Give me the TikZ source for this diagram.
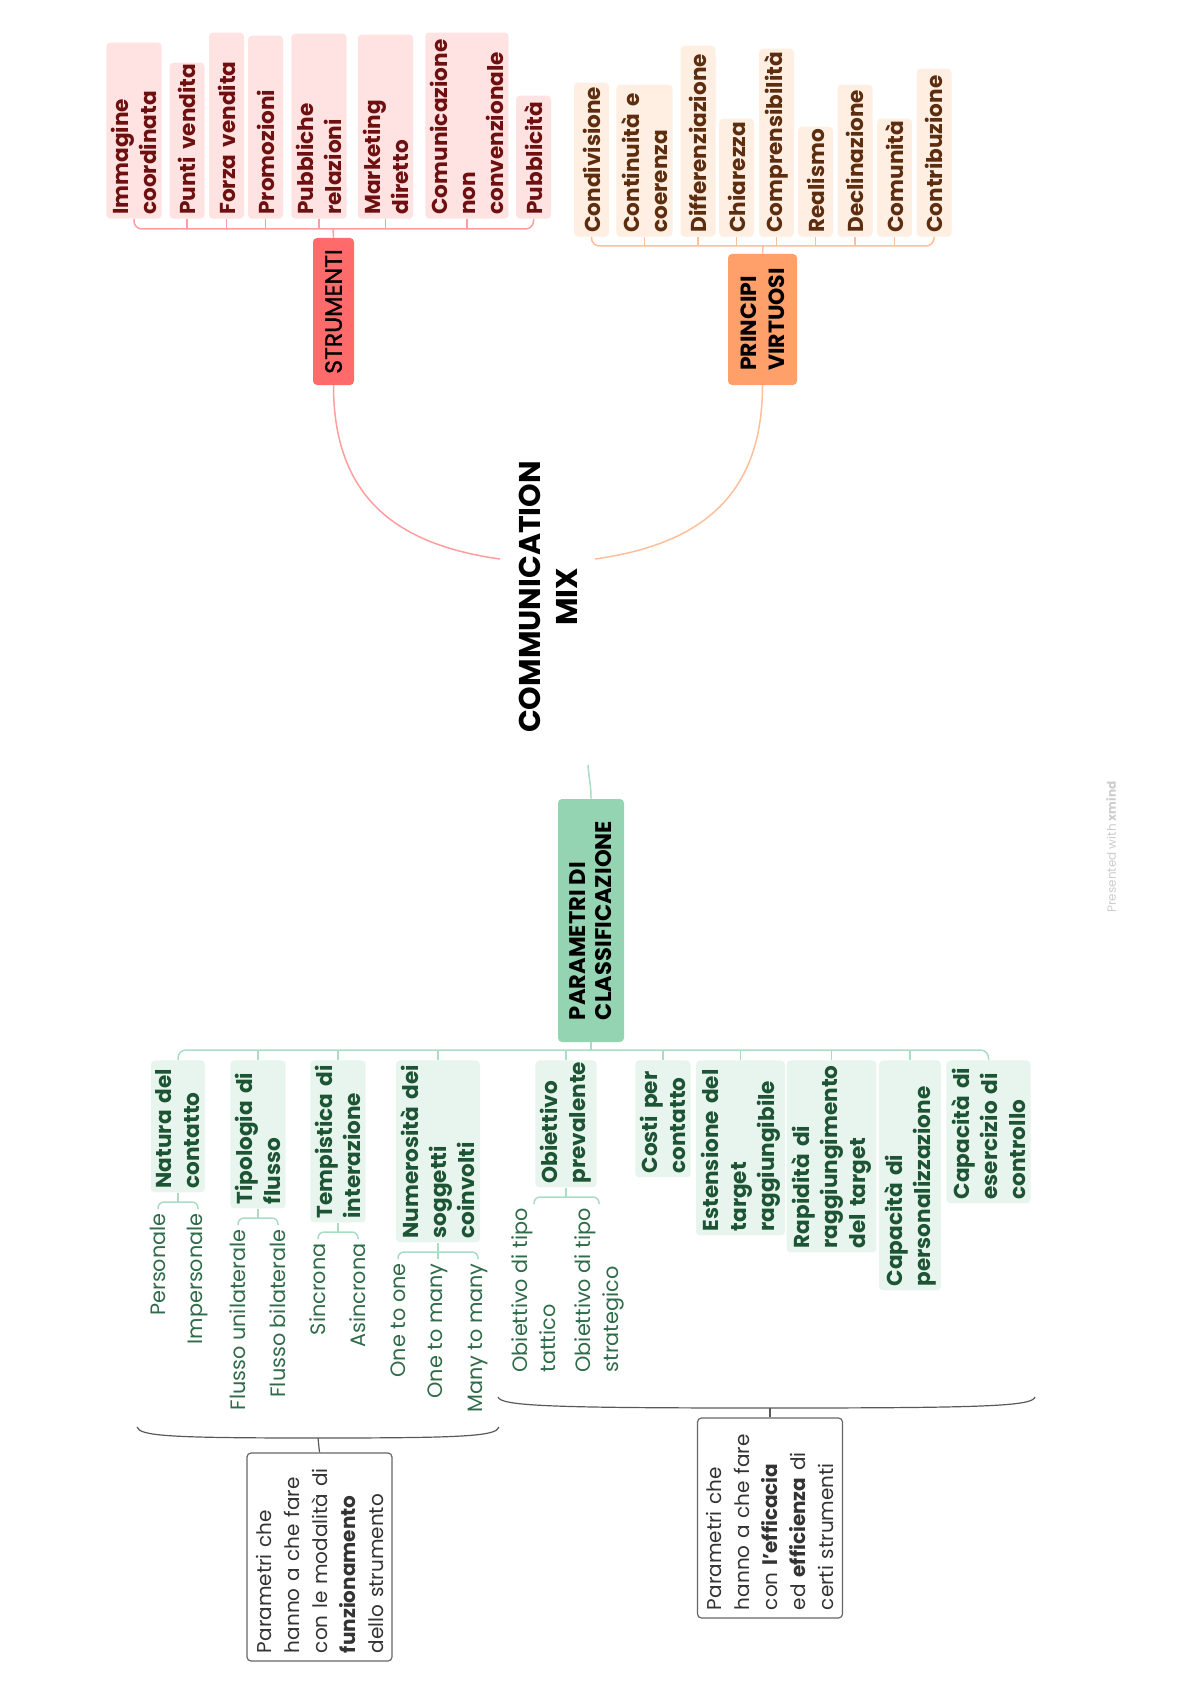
\documentclass[tikz,border=0pt]{standalone}
\usepackage{fontspec}
\setmainfont{Poppins}
\newfontfamily\medfont{Poppins}[FakeBold=1.2]
\hyphenpenalty=10000
\exhyphenpenalty=10000
\definecolor{redM}{HTML}{FF6B6B}
\definecolor{redL}{HTML}{FFE2E2}
\definecolor{redT}{HTML}{6E1010}
\definecolor{redW}{HTML}{FF9E9E}
\definecolor{orgM}{HTML}{FFA06A}
\definecolor{orgL}{HTML}{FFEEE2}
\definecolor{orgT}{HTML}{5C2D0E}
\definecolor{orgW}{HTML}{FFBF99}
\definecolor{grnM}{HTML}{95D4B3}
\definecolor{grnL}{HTML}{E8F5EE}
\definecolor{grnT}{HTML}{1C5434}
\definecolor{grnS}{HTML}{2F6B49}
\definecolor{grnW}{HTML}{A9DDC3}

\begin{document}
\begin{tikzpicture}[
  x=0.5pt, y=-0.5pt, every node/.style={rotate=90},
  hub/.style={font=\bfseries\fontsize{15}{18.5}\selectfont, align=center, inner sep=0pt},
  topic/.style={rounded corners=2pt, align=left, inner sep=0pt},
  leafR/.style={fill=redL, text=redT, rounded corners=2pt, align=left, text width=#1,
                inner xsep=2pt, inner ysep=2.5pt, minimum height=17.5pt, anchor=west,
                font=\bfseries\fontsize{10.8}{14}\selectfont},
  leafO/.style={leafR=#1, fill=orgL, text=orgT},
  leafG/.style={leafR=#1, fill=grnL, text=grnT, anchor=east},
  sub/.style={text=grnS, align=left, inner sep=2pt, anchor=east,
              font=\fontsize{10.4}{14}\selectfont},
  note/.style={draw=black!60, fill=white, rounded corners=2pt, align=left, inner xsep=4pt,
               minimum height=72.5pt, text=black!80, line width=0.6pt,
               font=\fontsize{10}{14}\selectfont},
  lnR/.style={draw=redW, line width=0.75pt},
  lnO/.style={draw=orgW, line width=0.75pt},
  lnG/.style={draw=grnW, line width=0.75pt},
  brc/.style={draw=black!65, line width=0.6pt}
]
\useasboundingbox (0,0) rectangle (1200,1696);

\node[hub] (cm) at (548.5,597) {COMMUNICATION\\MIX};

\node[topic, fill=redM, minimum width=73.5pt, minimum height=20.5pt,
      font=\medfont\fontsize{11.8}{14}\selectfont] (stru) at (333.5,311.5) {STRUMENTI};
\node[topic, fill=orgM, minimum width=65.5pt, minimum height=34.5pt,
      font=\bfseries\fontsize{11}{14}\selectfont] (princ) at (762.5,319.5) {PRINCIPI\\VIRTUOSI};
\node[topic, fill=grnM, minimum width=121.5pt, minimum height=33pt,
      font=\bfseries\fontsize{11.3}{13}\selectfont] (par) at (591,920.5) {PARAMETRI~DI\\CLASSIFICAZIONE};

\node[leafR=84pt]   (imm)   at (134,219)   {Immagine\\coordinata};
\node[leafR=74pt]   (pv)    at (187,219)   {Punti~vendita};
\node[leafR=89pt]   (fv)    at (226.5,219) {Forza~vendita};
\node[leafR=87.5pt] (promo) at (265.5,219) {Promozioni};
\node[leafR=88.5pt] (pr)    at (319,219)   {Pubbliche\\relazioni};
\node[leafR=88pt]   (md)    at (385.5,219) {Marketing\\diretto};
\node[leafR=89pt]   (cnc)   at (467,219)   {Comunicazione\\non\\convenzionale};
\node[leafR=57.5pt] (pubb)  at (533.5,219) {Pubblicità};

\node[leafO=73pt]   (cond)  at (591.5,237) {Condivisione};
\node[leafO=72pt]   (cont)  at (644.5,237) {Continuità~e\\coerenza};
\node[leafO=91.5pt] (diff)  at (698,237)   {Differenziazione};
\node[leafO=55pt]   (chia)  at (736.5,237) {Chiarezza};
\node[leafO=90pt]   (comp)  at (776.5,237) {Comprensibilità};
\node[leafO=51pt]   (real)  at (815.5,237) {Realismo};
\node[leafO=72pt]   (decl)  at (855,237)   {Declinazione};
\node[leafO=55pt]   (comu)  at (894.5,237) {Comunità};
\node[leafO=80pt]   (contr) at (934,237)   {Contribuzione};

\node[leafG=62pt]   (nat) at (178,1060)   {Natura~del\\contatto};
\node[leafG=70pt]   (tip) at (258,1060)   {Tipologia~di\\flusso};
\node[leafG=77pt]   (tem) at (338,1060)   {Tempistica~di\\interazione};
\node[leafG=87pt]   (num) at (438,1060)   {Numerosità~dei\\soggetti\\coinvolti};
\node[leafG=59.5pt] (obp) at (566,1060)   {Obiettivo\\prevalente};
\node[leafG=54.5pt] (cos) at (663,1060)   {Costi~per\\contatto};
\node[leafG=83.5pt] (est) at (740.5,1060) {Estensione~del\\target\\raggiungibile};
\node[leafG=92pt]   (rap) at (831.5,1060) {Rapidità~di\\raggiungimento\\del~target};
\node[leafG=111pt]  (cpe) at (910,1060)   {Capacità~di\\personalizzazione};
\node[leafG=67.5pt] (cec) at (988.5,1060) {Capacità~di\\esercizio~di\\controllo};

\node[sub] (pers)  at (158,1209) {Personale};
\node[sub] (imp)   at (198,1209) {Impersonale};
\node[sub] (fu)    at (238,1225) {Flusso unilaterale};
\node[sub] (fb)    at (278,1225) {Flusso bilaterale};
\node[sub] (sin)   at (318,1239) {Sincrona};
\node[sub] (asi)   at (358,1239) {Asincrona};
\node[sub] (oto)   at (398,1259) {One to one};
\node[sub] (otm)   at (438,1259) {One to many};
\node[sub] (mtm)   at (478,1259) {Many to many};
\node[sub] (tat)   at (534,1204) {Obiettivo di tipo\\tattico};
\node[sub] (strat) at (599,1204) {Obiettivo di tipo\\strategico};

\node[note, text width=96pt] (sumL) at (319.5,1557)
  {Parametri~che\\hanno~a~che~fare\\con~le~modalità~di\\\textbf{funzionamento}\\dello~strumento};
\node[note, text width=92pt] (sumR) at (770,1518)
  {Parametri~che\\hanno~a~che~fare\\con~\textbf{l’efficacia}\\ed~\textbf{efficienza}~di\\certi~strumenti};

\node[text=black!20, font=\fontsize{6}{7}\selectfont] (wm) at (1111,847) {Presented with \textbf{xmind}};

\coordinate (cmL) at (500,559);
\coordinate (cmR) at (595,559);
\coordinate (cmB) at (588,765);
\draw[lnR] (stru.west) .. controls +(0,115) and +(-100,-14) .. (cmL);
\draw[lnO] (princ.west) .. controls +(0,115) and +(100,-14) .. (cmR);
\draw[lnG] (cmB) .. controls +(1,15) and +(0,-15) .. (par.east);

\coordinate (brS) at (333,229);
\draw[lnR, rounded corners=4pt] (imm.west) |- (brS) -| (pubb.west);
\draw[lnR] (stru.east) -- (brS);
\foreach \n in {pv,fv,promo,pr,md,cnc} \draw[lnR] (\n.west) -- (\n.west |- brS);

\coordinate (brO) at (763,246);
\draw[lnO, rounded corners=4pt] (cond.west) |- (brO) -| (contr.west);
\draw[lnO] (princ.east) -- (brO);
\foreach \n in {cont,diff,chia,comp,real,decl,comu} \draw[lnO] (\n.west) -- (\n.west |- brO);

\coordinate (brG) at (591,1050);
\draw[lnG, rounded corners=4pt] (nat.east) |- (brG) -| (cec.east);
\draw[lnG] (par.west) -- (brG);
\foreach \n in {tip,tem,num,obp,cos,est,rap,cpe} \draw[lnG] (\n.east) -- (\n.east |- brG);

\coordinate (natJ) at (178,1202);
\draw[lnG, rounded corners=3pt] (pers.east) |- (natJ) -| (imp.east);
\draw[lnG] (nat.west) -- (natJ);
\coordinate (tipJ) at (258,1218);
\draw[lnG, rounded corners=3pt] (fu.east) |- (tipJ) -| (fb.east);
\draw[lnG] (tip.west) -- (tipJ);
\coordinate (temJ) at (338,1232);
\draw[lnG, rounded corners=3pt] (sin.east) |- (temJ) -| (asi.east);
\draw[lnG] (tem.west) -- (temJ);
\coordinate (numJ) at (438,1252);
\draw[lnG, rounded corners=3pt] (oto.east) |- (numJ) -| (mtm.east);
\draw[lnG] (num.west) -- (otm.east);
\coordinate (obpJ) at (566,1197);
\draw[lnG, rounded corners=3pt] (tat.east) |- (obpJ) -| (strat.east);
\draw[lnG] (obp.west) -- (obpJ);

\coordinate (bLa) at (137,1427);
\coordinate (bLm) at (318,1438);
\coordinate (bLb) at (499,1427);
\draw[brc] (bLa) .. controls +(3,9) and +(-150,0) .. (bLm) .. controls +(150,0) and +(-3,9) .. (bLb);
\draw[brc] (bLm) -- (sumL.east);
\coordinate (bRa) at (498,1397);
\coordinate (bRm) at (770,1408);
\coordinate (bRb) at (1035,1397);
\draw[brc] (bRa) .. controls +(3,9) and +(-220,0) .. (bRm) .. controls +(220,0) and +(-3,9) .. (bRb);
\draw[brc] (bRm) -- (sumR.east);
\end{tikzpicture}
\end{document}
